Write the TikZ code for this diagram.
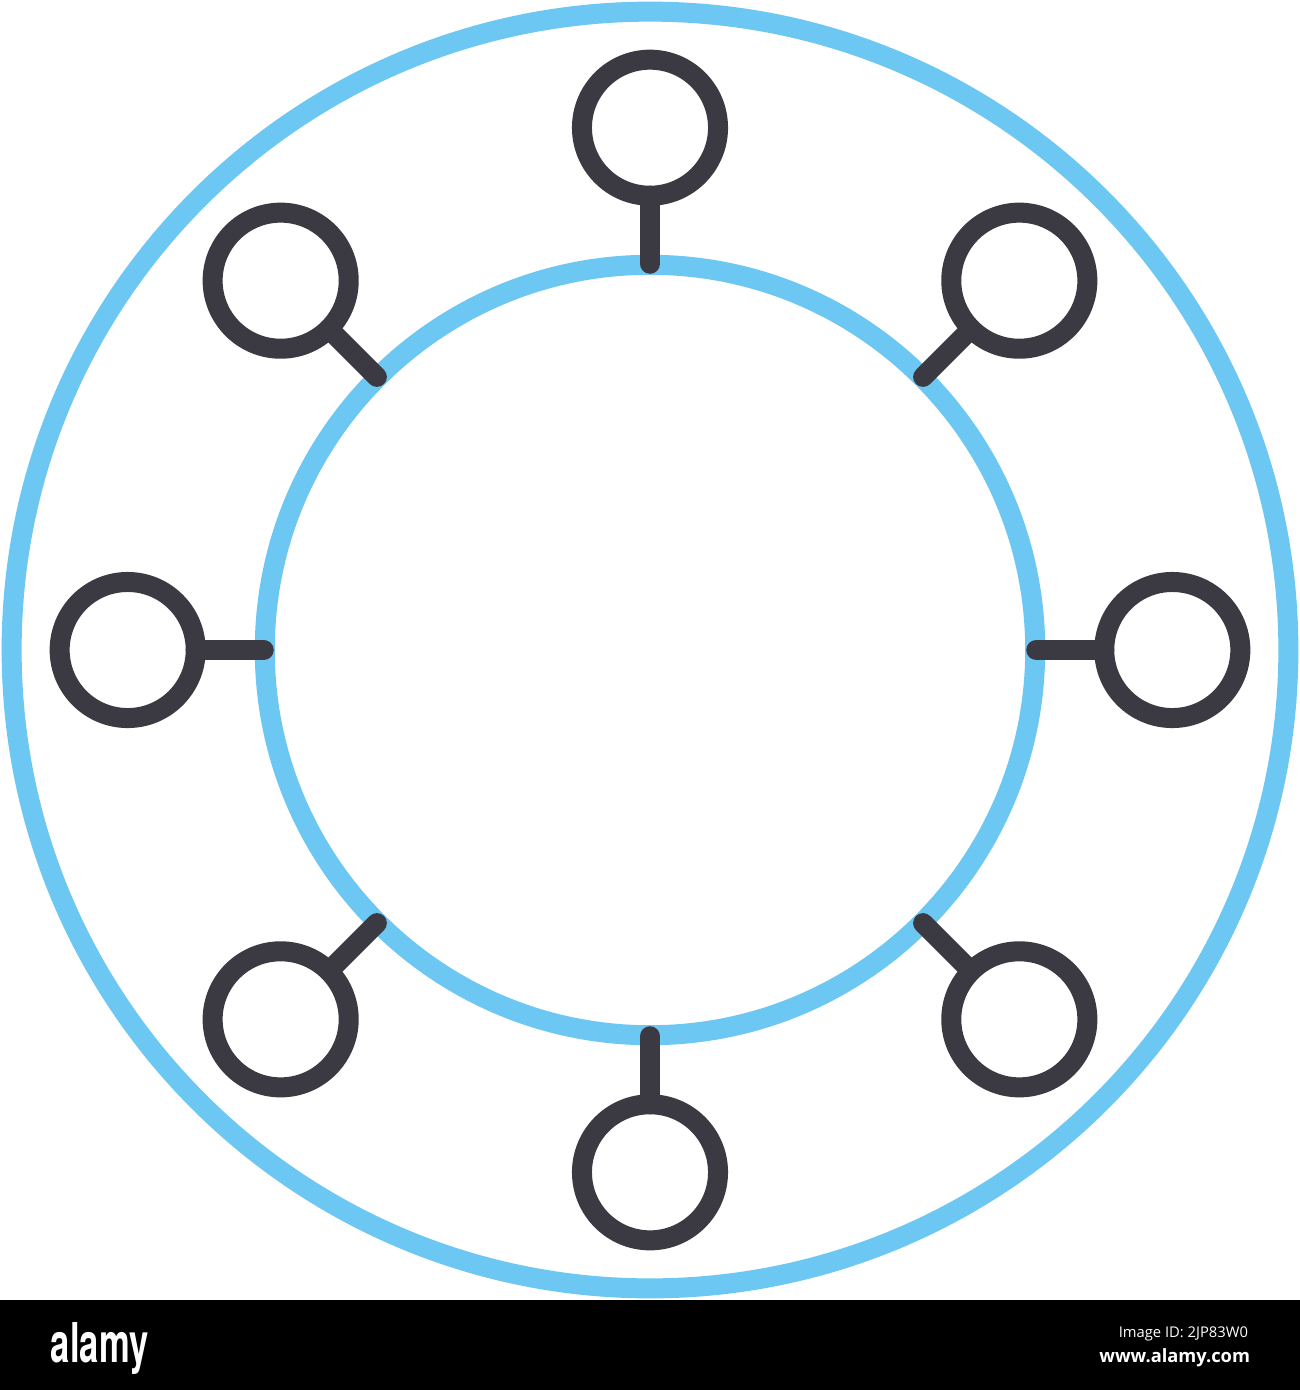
\documentclass[tikz,border=0pt]{standalone}
\usepackage{fontspec}
\usetikzlibrary{calc}
\newfontfamily\wmfont{Open Sans}
\newfontfamily\logofont{TeX Gyre Heros}
\definecolor{skyline}{HTML}{6CC8F2}
\definecolor{ink}{HTML}{3B3A42}
\tikzset{
  ring/.style={draw=skyline, line width=0.2cm},
  satellite/.style={circle, draw=ink, line width=0.2cm, minimum size=1.36cm, inner sep=0pt, outer sep=0pt},
  spoke/.style={draw=ink, line width=0.2cm, line cap=round},
  wmtext/.style={text=white, inner sep=0pt, outer sep=0pt}
}

\begin{document}
\begin{tikzpicture}[x=0.01cm, y=-0.01cm]
			\useasboundingbox (0,0) rectangle (1300,1390);
			\fill[white] (0,0) rectangle (1300,1390);
			\coordinate (ctr) at (650,650);
			
			% Draw the two rings
			\draw[ring] (ctr) circle[radius=6.38cm];
			\draw[ring] (ctr) circle[radius=3.85cm];
			
			% Draw the eight satellites and their spokes
			\foreach \ang [count=\i] in {90,45,0,-45,-90,-135,180,135}
			{
				\node[satellite] (sat\i) at ($(ctr)+(\ang:5.22cm)$) {};
				\coordinate (foot\i) at ($(ctr)+(\ang:3.86cm)$);
				\draw[spoke] (sat\i) -- (foot\i);
			}
			
			% Draw the watermark bar
			\fill[black] (0,1300) rectangle (1300,1390);
			\node[wmtext, anchor=base west] (logo) at (51,1362)
				{\scalebox{0.63}[1]{\logofont\bfseries\fontsize{15.6pt}{16pt}\selectfont alamy}};
			\node[wmtext, anchor=base east] (imgid) at (1248,1337)
				{\wmfont\fontsize{4.2pt}{5pt}\selectfont Image ID: 2JP83W0};
			\node[wmtext, anchor=base east] (site) at (1250,1362)
				{\wmfont\bfseries\fontsize{5.2pt}{6pt}\selectfont www.alamy.com};
			
		\end{tikzpicture}
\end{document}
